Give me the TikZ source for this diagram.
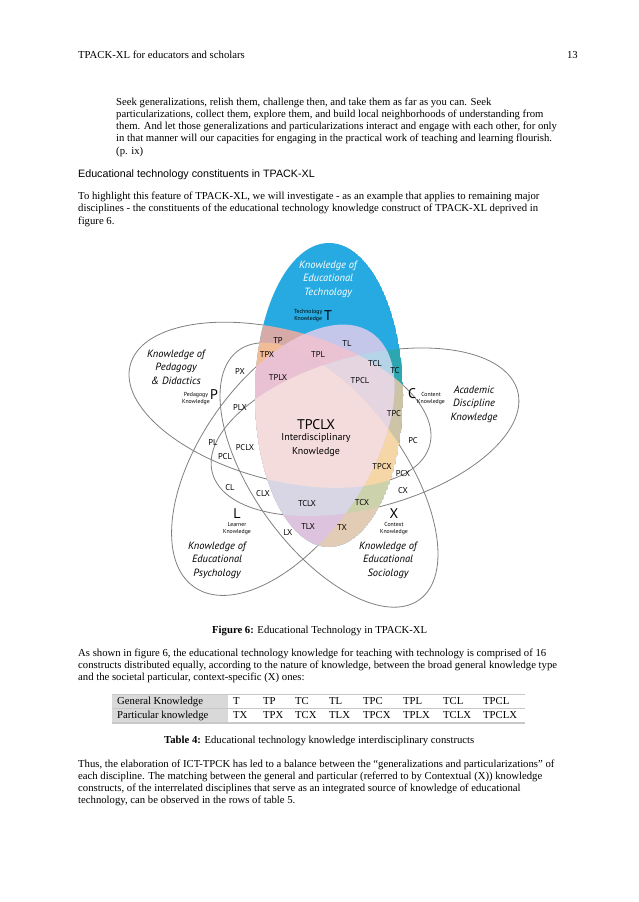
\documentclass[tikz,border=0pt]{standalone}
\usepackage{fontspec}
\setmainfont{Liberation Serif}
\newfontfamily\headfont{Liberation Sans}
\newfontfamily\figfont{PT Sans}
\usetikzlibrary{positioning}

\definecolor{ellgray}{RGB}{128,128,128}
\definecolor{colT}{RGB}{39,170,225}
\definecolor{colTP}{RGB}{214,170,166}
\definecolor{colTC}{RGB}{44,166,176}
\definecolor{colTL}{RGB}{196,199,233}
\definecolor{colTX}{RGB}{227,204,182}
\definecolor{colTPC}{RGB}{205,196,168}
\definecolor{colTPL}{RGB}{234,194,210}
\definecolor{colTPX}{RGB}{241,188,150}
\definecolor{colTCL}{RGB}{182,212,232}
\definecolor{colTCX}{RGB}{204,210,172}
\definecolor{colTLX}{RGB}{222,195,222}
\definecolor{colTPCL}{RGB}{229,213,224}
\definecolor{colTPCX}{RGB}{245,214,166}
\definecolor{colTPLX}{RGB}{233,193,211}
\definecolor{colTCLX}{RGB}{216,214,229}
\definecolor{colTPCLX}{RGB}{244,220,220}
\definecolor{tabgray}{RGB}{217,217,217}
\definecolor{rulegray}{RGB}{200,200,200}

% the five knowledge ellipses
\newcommand{\ellT}{(329,395) ellipse [x radius=74pt, y radius=152pt]}
\newcommand{\ellP}{(280,405) ellipse [x radius=155pt, y radius=75pt, rotate=-15]}
\newcommand{\ellC}{(365,432) ellipse [x radius=158pt, y radius=76pt, rotate=15]}
\newcommand{\ellL}{(283,460) ellipse [x radius=155pt, y radius=82pt, rotate=55]}
\newcommand{\ellX}{(329,475) ellipse [x radius=154pt, y radius=75pt, rotate=-54]}

\begin{document}
\begin{tikzpicture}[
  x=1pt, y=-1pt,
  txt/.style={anchor=base west, inner sep=0pt, font=\fontsize{10.7}{12}\selectfont},
  ttl/.style={anchor=base west, inner sep=0pt, font=\headfont\fontsize{10.7}{12}\selectfont},
  reg/.style={inner sep=0pt, font=\figfont\fontsize{8.5}{9}\selectfont},
  kn/.style={inner sep=0pt, align=center, font=\figfont\itshape\fontsize{10.5}{13.5}\selectfont},
  big/.style={inner sep=0pt, font=\figfont\fontsize{14}{14}\selectfont},
  tiny/.style={inner sep=0pt, align=center, font=\figfont\fontsize{5.8}{7}\selectfont},
  ring/.style={draw=ellgray, line width=0.8pt},
  cell/.style={anchor=base west, inner sep=0pt, font=\fontsize{10.7}{12}\selectfont}
]
  \useasboundingbox (0,0) rectangle (638,902);
  \fill[white] (0,0) rectangle (638,902);

  % Running head
  \node[txt] (head) at (78,58) {TPACK-XL for educators and scholars};
  \node[txt, anchor=base east] (pgno) at (578,58) {13};

  % Quotation
  \node[txt] (q1) at (116,105) {Seek generalizations, relish them, challenge then, and take them as far as you can. Seek};
  \node[txt] (q2) at (116,117.25) {particularizations, collect them, explore them, and build local neighborhoods of understanding from};
  \node[txt] (q3) at (116,129.5) {them. And let those generalizations and particularizations interact and engage with each other, for only};
  \node[txt] (q4) at (116,141.75) {in that manner will our capacities for engaging in the practical work of teaching and learning flourish.};
  \node[txt] (q5) at (116,154) {(p. ix)};

  % Section heading and first paragraph
  \node[ttl] (sec) at (78,177) {Educational technology constituents in TPACK-XL};
  \node[txt] (a1) at (78,199.5) {To highlight this feature of TPACK-XL, we will investigate - as an example that applies to remaining major};
  \node[txt] (a2) at (78,211.75) {disciplines - the constituents of the educational technology knowledge construct of TPACK-XL deprived in};
  \node[txt] (a3) at (78,224) {figure 6.};

  % Outer ellipses (hidden under T)
  \draw[ring] \ellP;
  \draw[ring] \ellC;
  \draw[ring] \ellL;
  \draw[ring] \ellX;

  % T ellipse, one colour per overlap
  \foreach \sel/\col in {
    {}/colT,
    {\clip\ellP;}/colTP, {\clip\ellC;}/colTC, {\clip\ellL;}/colTL, {\clip\ellX;}/colTX,
    {\clip\ellP;\clip\ellC;}/colTPC, {\clip\ellP;\clip\ellL;}/colTPL,
    {\clip\ellP;\clip\ellX;}/colTPX, {\clip\ellC;\clip\ellL;}/colTCL,
    {\clip\ellC;\clip\ellX;}/colTCX, {\clip\ellL;\clip\ellX;}/colTLX,
    {\clip\ellP;\clip\ellC;\clip\ellL;}/colTPCL, {\clip\ellP;\clip\ellC;\clip\ellX;}/colTPCX,
    {\clip\ellP;\clip\ellL;\clip\ellX;}/colTPLX, {\clip\ellC;\clip\ellL;\clip\ellX;}/colTCLX,
    {\clip\ellP;\clip\ellC;\clip\ellL;\clip\ellX;}/colTPCLX}{
    \begin{scope}
      \clip \ellT;
      \sel
      \fill[\col] \ellT;
    \end{scope}
  }

  % Knowledge titles
  \node[kn, text=white] (ktech) at (328,279) {Knowledge of\\Educational\\Technology};
  \node[kn] (kped) at (176,367) {Knowledge of\\Pedagogy\\\& Didactics};
  \node[kn] (kacad) at (474,404) {Academic\\Discipline\\Knowledge};
  \node[kn] (kpsy) at (217,560) {Knowledge of\\Educational\\Psychology};
  \node[kn] (ksoc) at (388,560) {Knowledge of\\Educational\\Sociology};

  % Single letters
  \node[big] (T) at (328,316) {T};
  \node[tiny, left=1.5pt of T] (tk) {Technology\\Knowledge};
  \node[big] (P) at (214,395) {P};
  \node[tiny, anchor=north east] (pk) at (210,392) {Pedagogy\\Knowledge};
  \node[big] (C) at (412,394) {C};
  \node[tiny, anchor=north west] (ck) at (417,392) {Content\\Knowledge};
  \node[big] (L) at (237,514) {L};
  \node[tiny, below=3pt of L] (lk) {Learner\\Knowledge};
  \node[big] (X) at (394,514) {X};
  \node[tiny, below=3pt of X] (xk) {Context\\Knowledge};

  % Centre
  \node[inner sep=0pt, font=\figfont\fontsize{14}{14}\selectfont] (tpclx) at (316,425) {TPCLX};
  \node[inner sep=0pt, align=center, font=\figfont\fontsize{10}{14}\selectfont] (inter) at (316,445) {Interdisciplinary\\Knowledge};

  % Overlap labels
  \foreach \t/\x/\y in {TP/278/340, TL/347/344, TPX/267/354, TPL/318/354, TCL/375/364,
    TC/395/371, PX/240/371, TPLX/278/377, TPCL/360/381, PLX/240/407, TPC/394/414,
    PL/213/442, PC/413/441, PCLX/245/448, PCL/225/457, TPCX/382/467, PCX/403/474,
    CL/230/488, CX/403/491, CLX/263/494, TCX/362/503, TCLX/307/504, TLX/308/527,
    TX/342/528, LX/288/533}
    \node[reg] (\t) at (\x,\y) {\t};

  % Figure caption and second paragraph
  \node[txt] (fig) at (212,633) {\textbf{Figure 6:} Educational Technology in TPACK-XL};
  \node[txt] (b1) at (78,656) {As shown in figure 6, the educational technology knowledge for teaching with technology is comprised of 16};
  \node[txt] (b2) at (78,668) {constructs distributed equally, according to the nature of knowledge, between the broad general knowledge type};
  \node[txt] (b3) at (78,680) {and the societal particular, context-specific (X) ones:};

  % Table 4
  \fill[tabgray] (112,694) rectangle (228,723);
  \draw[rulegray, line width=0.6pt] (112,694) -- (525,694);
  \draw[rulegray, line width=0.6pt] (112,708.5) -- (525,708.5);
  \draw[rulegray, line width=1.2pt] (112,723) -- (525,723);
  \node[cell] (rg) at (117,704.5) {General Knowledge};
  \node[cell] (rp) at (117,718.5) {Particular knowledge};
  \foreach \g/\p/\x [count=\i] in {T/TX/233, TP/TPX/263, TC/TCX/295, TL/TLX/329,
    TPC/TPCX/363, TPL/TPLX/403, TCL/TCLX/443, TPCL/TPCLX/483} {
    \node[cell] (g\i) at (\x,704.5) {\g};
    \node[cell] (p\i) at (\x,718.5) {\p};
  }
  \node[txt] (tab) at (164,743) {\textbf{Table 4:} Educational technology knowledge interdisciplinary constructs};

  % Closing paragraph
  \node[txt] (c1) at (78,767) {Thus, the elaboration of ICT-TPCK has led to a balance between the “generalizations and particularizations” of};
  \node[txt] (c2) at (78,779.25) {each discipline. The matching between the general and particular (referred to by Contextual (X)) knowledge};
  \node[txt] (c3) at (78,791.5) {constructs, of the interrelated disciplines that serve as an integrated source of knowledge of educational};
  \node[txt] (c4) at (78,803.75) {technology, can be observed in the rows of table 5.};
\end{tikzpicture}
\end{document}
